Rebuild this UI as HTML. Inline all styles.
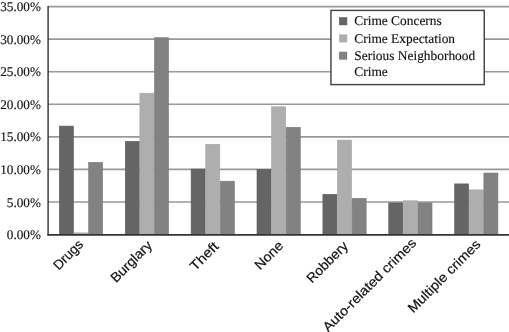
<!DOCTYPE html>
<html lang="en"><head><meta charset="utf-8"><title>Crime chart</title>
<style>html,body{margin:0;padding:0;background:#fff;}body{width:509px;height:332px;overflow:hidden;}svg{display:block;}text{text-rendering:geometricPrecision;}
.yl{font-family:"Liberation Serif",serif;font-size:13.2px;fill:#111;stroke:#111;stroke-width:0.14px;}
.lg{font-family:"Liberation Serif",serif;font-size:13.4px;fill:#111;stroke:#111;stroke-width:0.14px;}
.xl{font-family:"Liberation Sans",sans-serif;font-size:13.5px;fill:#111;stroke:#111;stroke-width:0.2px;}
</style></head><body>
<svg width="509" height="332" viewBox="0 0 509 332">
<rect width="509" height="332" fill="#ffffff"/>
<g>
<line x1="48.10" y1="6.60" x2="521" y2="6.60" stroke="#999999" stroke-width="1.65"/>
<line x1="48.10" y1="39.16" x2="521" y2="39.16" stroke="#999999" stroke-width="1.65"/>
<line x1="48.10" y1="71.73" x2="521" y2="71.73" stroke="#999999" stroke-width="1.65"/>
<line x1="48.10" y1="104.29" x2="521" y2="104.29" stroke="#999999" stroke-width="1.65"/>
<line x1="48.10" y1="136.86" x2="521" y2="136.86" stroke="#999999" stroke-width="1.65"/>
<line x1="48.10" y1="169.42" x2="521" y2="169.42" stroke="#999999" stroke-width="1.65"/>
<line x1="48.10" y1="201.99" x2="521" y2="201.99" stroke="#999999" stroke-width="1.65"/>
<rect x="59.40" y="126.10" width="14.02" height="108.45" fill="#656565" stroke="#5a5a5a" stroke-width="0.6"/>
<rect x="74.02" y="232.90" width="14.02" height="1.65" fill="#aeaeae" stroke="#a2a2a2" stroke-width="0.6"/>
<rect x="88.64" y="162.40" width="14.02" height="72.15" fill="#828282" stroke="#787878" stroke-width="0.6"/>
<rect x="125.27" y="141.30" width="14.02" height="93.25" fill="#656565" stroke="#5a5a5a" stroke-width="0.6"/>
<rect x="139.89" y="93.20" width="14.02" height="141.35" fill="#aeaeae" stroke="#a2a2a2" stroke-width="0.6"/>
<rect x="154.51" y="37.70" width="14.02" height="196.85" fill="#828282" stroke="#787878" stroke-width="0.6"/>
<rect x="191.14" y="169.10" width="14.02" height="65.45" fill="#656565" stroke="#5a5a5a" stroke-width="0.6"/>
<rect x="205.76" y="144.40" width="14.02" height="90.15" fill="#aeaeae" stroke="#a2a2a2" stroke-width="0.6"/>
<rect x="220.38" y="181.20" width="14.02" height="53.35" fill="#828282" stroke="#787878" stroke-width="0.6"/>
<rect x="257.01" y="169.50" width="14.02" height="65.05" fill="#656565" stroke="#5a5a5a" stroke-width="0.6"/>
<rect x="271.63" y="106.80" width="14.02" height="127.75" fill="#aeaeae" stroke="#a2a2a2" stroke-width="0.6"/>
<rect x="286.25" y="127.30" width="14.02" height="107.25" fill="#828282" stroke="#787878" stroke-width="0.6"/>
<rect x="322.89" y="194.40" width="14.02" height="40.15" fill="#656565" stroke="#5a5a5a" stroke-width="0.6"/>
<rect x="337.51" y="140.10" width="14.02" height="94.45" fill="#aeaeae" stroke="#a2a2a2" stroke-width="0.6"/>
<rect x="352.13" y="198.30" width="14.02" height="36.25" fill="#828282" stroke="#787878" stroke-width="0.6"/>
<rect x="388.76" y="202.90" width="14.02" height="31.65" fill="#656565" stroke="#5a5a5a" stroke-width="0.6"/>
<rect x="403.38" y="200.80" width="14.02" height="33.75" fill="#aeaeae" stroke="#a2a2a2" stroke-width="0.6"/>
<rect x="418.00" y="202.90" width="14.02" height="31.65" fill="#828282" stroke="#787878" stroke-width="0.6"/>
<rect x="454.63" y="183.90" width="14.02" height="50.65" fill="#656565" stroke="#5a5a5a" stroke-width="0.6"/>
<rect x="469.25" y="189.90" width="14.02" height="44.65" fill="#aeaeae" stroke="#a2a2a2" stroke-width="0.6"/>
<rect x="483.87" y="173.00" width="14.02" height="61.55" fill="#828282" stroke="#787878" stroke-width="0.6"/>
<line x1="48.10" y1="5.90" x2="48.10" y2="235.55" stroke="#303030" stroke-width="1.4"/>
<line x1="47.40" y1="234.80" x2="521" y2="234.80" stroke="#333333" stroke-width="1.7"/>
<text class="yl" x="40.9" y="11.20" text-anchor="end">35.00%</text>
<text class="yl" x="40.9" y="43.76" text-anchor="end">30.00%</text>
<text class="yl" x="40.9" y="76.33" text-anchor="end">25.00%</text>
<text class="yl" x="40.9" y="108.89" text-anchor="end">20.00%</text>
<text class="yl" x="40.9" y="141.46" text-anchor="end">15.00%</text>
<text class="yl" x="40.9" y="174.02" text-anchor="end">10.00%</text>
<text class="yl" x="40.9" y="206.59" text-anchor="end">5.00%</text>
<text class="yl" x="40.9" y="239.15" text-anchor="end">0.00%</text>
<rect x="330.95" y="10.4" width="153.3" height="74.2" fill="#ffffff" stroke="#444444" stroke-width="1.45"/>
<rect x="339.1" y="17.2" width="8.1" height="8" fill="#656565"/>
<rect x="339.1" y="34.4" width="8.1" height="8" fill="#aeaeae"/>
<rect x="339.1" y="51.7" width="8.1" height="8" fill="#828282"/>
<text class="lg" x="354.3" y="25.4">Crime Concerns</text>
<text class="lg" x="354.3" y="42.6">Crime Expectation</text>
<text class="lg" x="354.3" y="60.2">Serious Neighborhood</text>
<text class="lg" x="354.3" y="76.45">Crime</text>
<text class="xl" transform="translate(84.10 245.20) rotate(-45)" text-anchor="end" textLength="35.97" lengthAdjust="spacingAndGlyphs">Drugs</text>
<text class="xl" transform="translate(152.90 246.30) rotate(-45)" text-anchor="end" textLength="52.36" lengthAdjust="spacingAndGlyphs">Burglary</text>
<text class="xl" transform="translate(219.40 247.30) rotate(-45)" text-anchor="end" textLength="34.19" lengthAdjust="spacingAndGlyphs">Theft</text>
<text class="xl" transform="translate(284.20 246.40) rotate(-45)" text-anchor="end" textLength="34.20" lengthAdjust="spacingAndGlyphs">None</text>
<text class="xl" transform="translate(348.80 246.90) rotate(-45)" text-anchor="end" textLength="52.09" lengthAdjust="spacingAndGlyphs">Robbery</text>
<text class="xl" transform="translate(417.00 243.90) rotate(-45)" text-anchor="end" textLength="125.47" lengthAdjust="spacingAndGlyphs">Auto-related crimes</text>
<text class="xl" transform="translate(481.40 245.20) rotate(-45)" text-anchor="end" textLength="96.51" lengthAdjust="spacingAndGlyphs">Multiple crimes</text>
</g>
</svg></body></html>
